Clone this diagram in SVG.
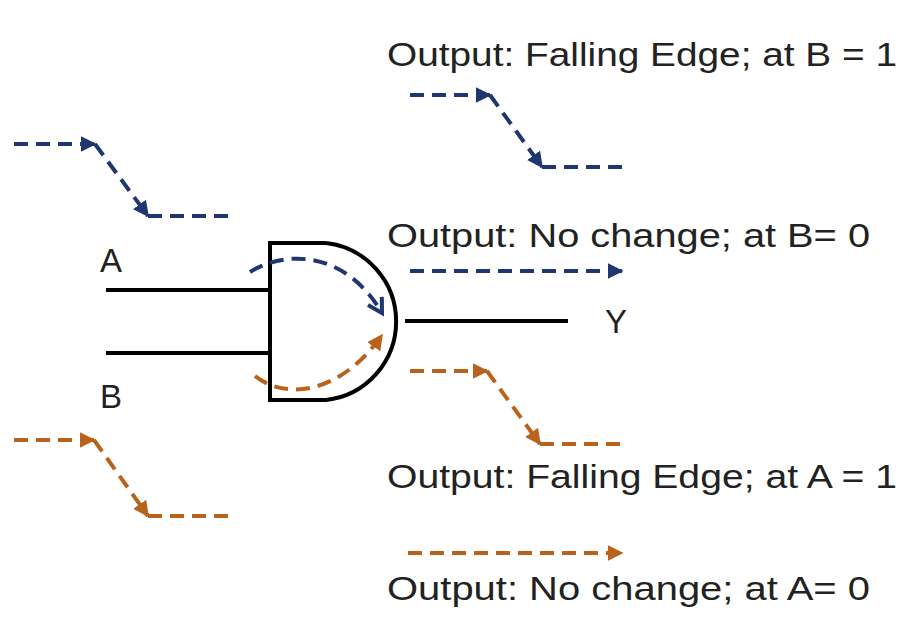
<svg xmlns="http://www.w3.org/2000/svg" width="920" height="643" viewBox="0 0 920 643">
<style>
text{font-family:"Liberation Sans","Noto Sans",sans-serif;font-size:33px;fill:#222}
.w{stroke:#000;stroke-width:4;fill:none}
.b{stroke:#1f3670;stroke-width:4;fill:none;stroke-dasharray:14 8}
.o{stroke:#b8621c;stroke-width:4;fill:none;stroke-dasharray:14 8}
</style>
<defs>
<marker id="mb" viewBox="0 0 10 10" refX="9" refY="5" markerWidth="4" markerHeight="4" orient="auto"><path d="M0,0L10,5L0,10z" fill="#1f3670"/></marker>
<marker id="mo" viewBox="0 0 10 10" refX="9" refY="5" markerWidth="4" markerHeight="4" orient="auto"><path d="M0,0L10,5L0,10z" fill="#b8621c"/></marker>
<marker id="mbo" viewBox="0 0 10 10" refX="8" refY="5" markerWidth="5" markerHeight="5" orient="auto"><path d="M1,1L8,5L1,9" fill="none" stroke="#1f3670" stroke-width="2"/></marker>
</defs>
<g id="gate">
<path class="w" d="M106,290H270M106,353H270M405,321H568"/>
<path class="w" d="M326,243H270V400H326A79,79 0 0 0 326,243"/>
<text x="100" y="272">A</text><text x="100" y="408">B</text><text x="605" y="333">Y</text>
</g>
<g id="connectors">
<path class="b" d="M14,144H95" marker-end="url(#mb)"/><path class="b" d="M95,144L148,216" marker-end="url(#mb)"/><path class="b" d="M148,216H230"/>
<path class="b" d="M410,95H490" marker-end="url(#mb)"/><path class="b" d="M490,95L542,167" marker-end="url(#mb)"/><path class="b" d="M542,167H625"/>
<path class="o" d="M410,371H487" marker-end="url(#mo)"/><path class="o" d="M487,371L540,444" marker-end="url(#mo)"/><path class="o" d="M540,444H625"/>
<path class="o" d="M14,440H94" marker-end="url(#mo)"/><path class="o" d="M94,440L148,516" marker-end="url(#mo)"/><path class="o" d="M148,516H230"/>
<path class="b" d="M410,271H622" marker-end="url(#mb)"/>
<path class="o" d="M408,553H622" marker-end="url(#mo)"/>
<path class="b" d="M250,272C285,250 345,250 382,313" marker-end="url(#mbo)"/>
<path class="o" d="M255,376C285,400 340,395 382,335" marker-end="url(#mo)"/>
</g>
<g id="labels">
<text x="387" y="66" textLength="510" lengthAdjust="spacingAndGlyphs">Output: Falling Edge; at B = 1</text>
<text x="387" y="247" textLength="483" lengthAdjust="spacingAndGlyphs">Output: No change; at B= 0</text>
<text x="387" y="488" textLength="510" lengthAdjust="spacingAndGlyphs">Output: Falling Edge; at A = 1</text>
<text x="387" y="600" textLength="483" lengthAdjust="spacingAndGlyphs">Output: No change; at A= 0</text>
</g>
</svg>
